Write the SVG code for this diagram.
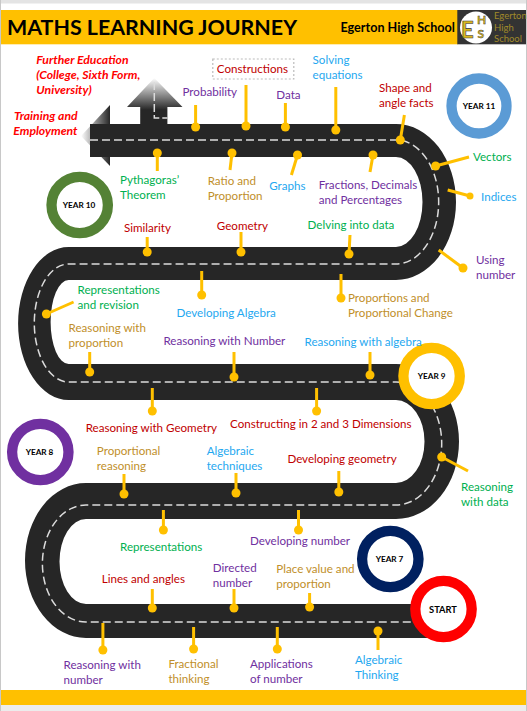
<svg xmlns="http://www.w3.org/2000/svg" width="527" height="711" viewBox="0 0 527 711">
<style>
text{font-family:"Lato","Liberation Sans",sans-serif;font-size:11.600px}
.p{fill:#7030A0}.r{fill:#C00000}.g{fill:#00B050}.b{fill:#1FA8F0}.o{fill:#BF8F2A}
.y{font-weight:700;font-size:8.200px;fill:#000;text-anchor:middle}
.f{fill:#F00;font-weight:700;font-style:italic;font-size:12.200px}
.ring{fill:#fff;stroke-width:10.300}
#pins line{stroke:#FFC000;stroke-width:3}
#pins circle{fill:#FFC000}
</style>
<defs>
<linearGradient id="gu" gradientUnits="userSpaceOnUse" x1="0" y1="78" x2="0" y2="110"><stop offset="0" stop-color="#fff"/><stop offset="1" stop-color="#262626"/></linearGradient>
<linearGradient id="gl" gradientUnits="userSpaceOnUse" x1="81" y1="0" x2="110" y2="0"><stop offset="0" stop-color="#fff"/><stop offset="1" stop-color="#262626"/></linearGradient>
</defs>
<rect width="527" height="711" fill="#fff"/>
<rect width="527" height="3.500" fill="#e4e4e4"/>
<rect y="705" width="527" height="6" fill="#ececec"/>
<rect width="1" height="711" fill="#c8c8c8"/>
<rect x="526" width="1" height="711" fill="#c8c8c8"/>
<g id="header">
<rect x="1" y="10" width="457" height="34.300" fill="#FFC000"/>
<text x="7" y="34.500" style="font-size:21.400px;font-weight:700" fill="#000">MATHS LEARNING JOURNEY</text>
<text x="340.500" y="32" style="font-size:12.600px;font-weight:700" fill="#000">Egerton High School</text>
</g>
<g id="logo">
<rect x="457.300" y="10" width="68.700" height="34.300" fill="#333"/>
<circle cx="476" cy="27.500" r="16" fill="#fff"/>
<text x="461" y="38" style="font-size:22px;font-weight:700" fill="#D9B820" stroke="#333" stroke-width=".6">E</text>
<text x="477" y="23.500" style="font-size:12px;font-weight:700" fill="#D9B820" stroke="#333" stroke-width=".4">H</text>
<text x="477.500" y="38" style="font-size:12px;font-weight:700" fill="#D9B820" stroke="#333" stroke-width=".4">S</text>
<text x="494" y="19" style="font-size:9.500px" fill="#A08A2A">Egerton</text>
<text x="494" y="30.500" style="font-size:9.500px" fill="#A08A2A">High</text>
<text x="494" y="42" style="font-size:9.500px" fill="#A08A2A">School</text>
</g>
<rect id="bottom-bar" x="1" y="690" width="525" height="15" fill="#FFC000"/>
<g id="road">
<path d="M154.300 78L182.500 107H167.400V125H140.200V107H127Z" fill="url(#gu)"/>
<path d="M110 105V166L81 136Z" fill="url(#gl)"/>
<path fill="#262626" d="M90 124H396A60 78 0 0 1 396 280H68.600A18 42 0 0 0 68.600 364H396A63 77.500 0 0 1 396 519H86A26.500 42.500 0 0 0 86 604H428V638H86A61 77.500 0 0 1 86 483H396A28.500 41.500 0 0 0 396 400H68.600A50.500 76.500 0 0 1 68.600 247H396A26.500 45 0 0 0 396 157H90Z"/>
<path fill="none" stroke="#dcdcdc" stroke-width="1.500" stroke-dasharray="8 4" d="M90 140H396A42.700 62 0 0 1 396 264H68.600A34.300 59 0 0 0 68.600 382H396A45.700 61.500 0 0 1 396 505H86A43.600 58.500 0 0 0 86 622H424"/>
<path fill="none" stroke="#dcdcdc" stroke-width="1.500" stroke-dasharray="8 3" d="M154.300 82V118H167.400"/>
</g>
<g id="pins">
<line x1="195.600" y1="127" x2="195.600" y2="105"/><circle cx="195.600" cy="127" r="4.500"/>
<line x1="246" y1="126" x2="246" y2="85"/><circle cx="246" cy="126" r="4.500"/>
<line x1="285.400" y1="127" x2="285.400" y2="103"/><circle cx="285.400" cy="127" r="4.500"/>
<line x1="335.800" y1="130" x2="335.800" y2="87"/><circle cx="335.800" cy="130" r="4.500"/>
<line x1="400.300" y1="140" x2="404.400" y2="115"/><circle cx="400.300" cy="140" r="4.500"/>
<line x1="157.300" y1="153" x2="157.300" y2="171"/><circle cx="157.300" cy="153" r="4.500"/>
<line x1="232" y1="153" x2="230" y2="170"/><circle cx="232" cy="153" r="4.500"/>
<line x1="297.500" y1="155" x2="291.400" y2="175"/><circle cx="297.500" cy="155" r="4.500"/>
<line x1="373" y1="155" x2="370" y2="172"/><circle cx="373" cy="155" r="4.500"/>
<line x1="435.600" y1="166" x2="469" y2="157"/><circle cx="435.600" cy="166" r="4.500"/>
<line x1="470" y1="196" x2="447.700" y2="190"/><circle cx="470" cy="196" r="3.500"/>
<line x1="463" y1="268" x2="438.700" y2="250"/><circle cx="463" cy="268" r="4.500"/>
<line x1="147.200" y1="252" x2="147.200" y2="237"/><circle cx="147.200" cy="252" r="4.500"/>
<line x1="241" y1="252" x2="241" y2="232"/><circle cx="241" cy="252" r="4.500"/>
<line x1="349" y1="254" x2="350" y2="235"/><circle cx="349" cy="254" r="4.500"/>
<line x1="201.700" y1="295" x2="201.700" y2="271"/><circle cx="201.700" cy="295" r="4.500"/>
<line x1="341" y1="298" x2="341" y2="274"/><circle cx="341" cy="298" r="4.500"/>
<line x1="46.400" y1="314" x2="73.600" y2="302"/><circle cx="46.400" cy="314" r="4.500"/>
<line x1="89.700" y1="372" x2="89.700" y2="352"/><circle cx="89.700" cy="372" r="4.500"/>
<line x1="234" y1="377" x2="234" y2="352"/><circle cx="234" cy="377" r="4.500"/>
<line x1="370" y1="375" x2="370" y2="352"/><circle cx="370" cy="375" r="4.500"/>
<line x1="152.300" y1="411" x2="152.300" y2="388"/><circle cx="152.300" cy="411" r="4.500"/>
<line x1="316.600" y1="411" x2="316.600" y2="388"/><circle cx="316.600" cy="411" r="4.500"/>
<line x1="441.700" y1="457" x2="468" y2="471"/><circle cx="441.700" cy="457" r="4.500"/>
<line x1="124" y1="494" x2="124" y2="474"/><circle cx="124" cy="494" r="4.500"/>
<line x1="236" y1="493" x2="236" y2="473"/><circle cx="236" cy="493" r="4.500"/>
<line x1="338.800" y1="492" x2="338.800" y2="471"/><circle cx="338.800" cy="492" r="4.500"/>
<line x1="163.400" y1="530" x2="163.400" y2="510"/><circle cx="163.400" cy="530" r="4.500"/>
<line x1="298.500" y1="530" x2="298.500" y2="510"/><circle cx="298.500" cy="530" r="4.500"/>
<line x1="152.300" y1="608" x2="152.300" y2="589"/><circle cx="152.300" cy="608" r="4.500"/>
<line x1="234" y1="608" x2="234" y2="589"/><circle cx="234" cy="608" r="4.500"/>
<line x1="309.600" y1="607" x2="309.600" y2="593"/><circle cx="309.600" cy="607" r="4.500"/>
<line x1="102.900" y1="650" x2="102.900" y2="623"/><circle cx="102.900" cy="650" r="4.500"/>
<line x1="193.600" y1="649" x2="193.600" y2="627"/><circle cx="193.600" cy="649" r="4.500"/>
<line x1="277.300" y1="649" x2="277.300" y2="627"/><circle cx="277.300" cy="649" r="4.500"/>
<line x1="378" y1="631" x2="378" y2="650"/><circle cx="378" cy="631" r="4.500"/>
</g>
<g id="exits">
<text class="f" x="36.300" y="64">Further Education</text>
<text class="f" x="36.300" y="79">(College, Sixth Form,</text>
<text class="f" x="36.300" y="94">University)</text>
<text class="f" x="77.600" y="120" text-anchor="end">Training and</text>
<text class="f" x="77.600" y="135" text-anchor="end">Employment</text>
</g>
<g id="year-11"><circle class="ring" cx="479" cy="106" r="27.500" stroke="#5B9BD5"/><text class="y" x="479" y="109">YEAR 11</text></g>
<g id="year-10"><circle class="ring" cx="79.700" cy="205" r="28.200" stroke="#548235"/><text class="y" x="79" y="208">YEAR 10</text></g>
<g id="year-9"><circle class="ring" cx="431.600" cy="376" r="28.200" stroke="#FFC000"/><text class="y" x="431.600" y="379">YEAR 9</text></g>
<g id="year-8"><circle class="ring" cx="40.300" cy="452" r="28.200" stroke="#7030A0"/><text class="y" x="39.500" y="455">YEAR 8</text></g>
<g id="year-7"><circle class="ring" cx="390.300" cy="559" r="28.200" stroke="#002060"/><text class="y" x="389.500" y="562">YEAR 7</text></g>
<g id="start"><circle class="ring" cx="443.500" cy="609" r="28.200" stroke="#F00"/><text class="y" x="443" y="613" style="font-size:9.300px">START</text></g>
<g id="n-constructions"><rect x="212.800" y="59" width="81" height="20" fill="none" stroke="#bbb" stroke-width="1.200" stroke-dasharray="2 2"/><text class="r" x="216.800" y="73">Constructions</text></g>
<g id="n-solving"><text class="b" x="312.600" y="64">Solving</text><text class="b" x="312.600" y="79">equations</text></g>
<g id="n-probability"><text class="p" x="182.500" y="96">Probability</text></g>
<g id="n-data"><text class="p" x="276.300" y="99">Data</text></g>
<g id="n-shape"><text class="r" x="379" y="92">Shape and</text><text class="r" x="379" y="107">angle facts</text></g>
<g id="n-vectors"><text class="g" x="473" y="161">Vectors</text></g>
<g id="n-indices"><text class="b" x="481" y="201">Indices</text></g>
<g id="n-pythagoras"><text class="g" x="120" y="184">Pythagoras’</text><text class="g" x="120" y="199">Theorem</text></g>
<g id="n-ratio"><text class="o" x="207.700" y="185">Ratio and</text><text class="o" x="207.700" y="200">Proportion</text></g>
<g id="n-graphs"><text class="b" x="269.200" y="190">Graphs</text></g>
<g id="n-fractions"><text class="p" x="318.700" y="189">Fractions, Decimals</text><text class="p" x="318.700" y="204">and Percentages</text></g>
<g id="n-similarity"><text class="r" x="124" y="232">Similarity</text></g>
<g id="n-geometry"><text class="r" x="216.800" y="230">Geometry</text></g>
<g id="n-delving"><text class="g" x="307.600" y="229">Delving into data</text></g>
<g id="n-using"><text class="p" x="476" y="264">Using</text><text class="p" x="476" y="279">number</text></g>
<g id="n-representations-revision"><text class="g" x="77.600" y="294">Representations</text><text class="g" x="77.600" y="309">and revision</text></g>
<g id="n-dev-algebra"><text class="b" x="176.500" y="317">Developing Algebra</text></g>
<g id="n-proportions"><text class="o" x="348" y="302">Proportions and</text><text class="o" x="348" y="317">Proportional Change</text></g>
<g id="n-reasoning-proportion"><text class="o" x="68.600" y="332">Reasoning with</text><text class="o" x="68.600" y="347">proportion</text></g>
<g id="n-reasoning-number"><text class="p" x="163.400" y="345">Reasoning with Number</text></g>
<g id="n-reasoning-algebra"><text class="b" x="304.500" y="346">Reasoning with algebra</text></g>
<g id="n-reasoning-geometry"><text class="r" x="85.700" y="432">Reasoning with Geometry</text></g>
<g id="n-constructing"><text class="r" x="230" y="428">Constructing in 2 and 3 Dimensions</text></g>
<g id="n-proportional"><text class="o" x="96.800" y="455">Proportional</text><text class="o" x="96.800" y="470">reasoning</text></g>
<g id="n-algebraic-tech"><text class="b" x="206.700" y="455">Algebraic</text><text class="b" x="206.700" y="470">techniques</text></g>
<g id="n-dev-geometry"><text class="r" x="287.400" y="463">Developing geometry</text></g>
<g id="n-reasoning-data"><text class="g" x="461" y="491">Reasoning</text><text class="g" x="461" y="506">with data</text></g>
<g id="n-representations"><text class="g" x="120" y="551">Representations</text></g>
<g id="n-dev-number"><text class="p" x="250" y="545">Developing number</text></g>
<g id="n-lines"><text class="r" x="101.800" y="583">Lines and angles</text></g>
<g id="n-directed"><text class="p" x="212.800" y="572">Directed</text><text class="p" x="212.800" y="587">number</text></g>
<g id="n-place"><text class="o" x="276.300" y="573">Place value and</text><text class="o" x="276.300" y="588">proportion</text></g>
<g id="n-reasoning-with-number"><text class="p" x="63.500" y="669">Reasoning with</text><text class="p" x="63.500" y="684">number</text></g>
<g id="n-fractional"><text class="o" x="168.400" y="668">Fractional</text><text class="o" x="168.400" y="683">thinking</text></g>
<g id="n-applications"><text class="p" x="250" y="668">Applications</text><text class="p" x="250" y="683">of number</text></g>
<g id="n-algebraic-thinking"><text class="b" x="355" y="664">Algebraic</text><text class="b" x="355" y="679">Thinking</text></g>
</svg>
